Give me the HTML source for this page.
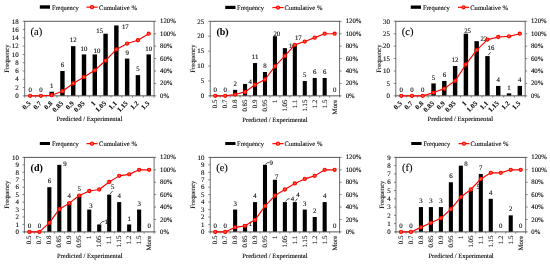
<!DOCTYPE html>
<html lang="en">
<head>
<meta charset="utf-8">
<title>Frequency and cumulative percentage histograms</title>
<style>
html,body{margin:0;padding:0;background:#fff;}
body{width:550px;height:264px;overflow:hidden;}
svg{display:block;font-family:'Liberation Serif', 'DejaVu Serif', serif;}
text{stroke:#111;stroke-width:.11px;}
text.r{stroke-width:.07px;}
svg{filter:blur(.25px);}
text[font-weight=bold]{stroke-width:.05px;}
</style>
</head>
<body>
<svg width="550" height="264" viewBox="0 0 550 264" text-rendering="geometricPrecision">
<rect width="550" height="264" fill="#fff"/>
<g id="chart-a">
<rect x="39.8" y="5.3" width="10.2" height="3.4" fill="#000"/>
<text x="51.9" y="9.55" text-anchor="start" font-size="6.7" fill="#000" textLength="26.9" lengthAdjust="spacingAndGlyphs">Frequency</text>
<line x1="86.5" y1="7.15" x2="97.5" y2="7.15" stroke="#ff0000" stroke-width="1.2"/>
<circle cx="92" cy="7.15" r="1.6" fill="#ff7038" stroke="#ff0000" stroke-width="1.1"/>
<text x="99" y="9.55" text-anchor="start" font-size="6.7" fill="#000" textLength="37.9" lengthAdjust="spacingAndGlyphs">Cumulative %</text>
<rect x="49.45" y="91.71" width="4.42" height="4.14" fill="#000"/>
<rect x="60.23" y="71" width="4.42" height="24.85" fill="#000"/>
<rect x="71.01" y="46.15" width="4.42" height="49.7" fill="#000"/>
<rect x="81.8" y="54.43" width="4.42" height="41.42" fill="#000"/>
<rect x="92.58" y="54.43" width="4.42" height="41.42" fill="#000"/>
<rect x="103.36" y="33.72" width="4.42" height="62.12" fill="#000"/>
<rect x="114.15" y="25.44" width="4.42" height="70.41" fill="#000"/>
<rect x="124.93" y="58.57" width="4.42" height="37.27" fill="#000"/>
<rect x="135.71" y="75.14" width="4.42" height="20.71" fill="#000"/>
<rect x="146.5" y="54.43" width="4.42" height="41.42" fill="#000"/>
<path d="M24.7 95.85V21.3M154.1 21.3V95.85" fill="none" stroke="#6e6e6e" stroke-width="1"/>
<path d="M24.2 21.3H154.6M24.2 95.85H154.6" fill="none" stroke="#555" stroke-width="1"/>
<line x1="22.7" y1="95.85" x2="24.7" y2="95.85" stroke="#555" stroke-width="0.7"/>
<text x="18.75" y="98.05" text-anchor="end" font-size="6.9" fill="#000">0</text>
<line x1="22.7" y1="87.57" x2="24.7" y2="87.57" stroke="#555" stroke-width="0.7"/>
<text x="18.75" y="89.77" text-anchor="end" font-size="6.9" fill="#000">2</text>
<line x1="22.7" y1="79.28" x2="24.7" y2="79.28" stroke="#555" stroke-width="0.7"/>
<text x="18.75" y="81.48" text-anchor="end" font-size="6.9" fill="#000">4</text>
<line x1="22.7" y1="71" x2="24.7" y2="71" stroke="#555" stroke-width="0.7"/>
<text x="18.75" y="73.2" text-anchor="end" font-size="6.9" fill="#000">6</text>
<line x1="22.7" y1="62.72" x2="24.7" y2="62.72" stroke="#555" stroke-width="0.7"/>
<text x="18.75" y="64.92" text-anchor="end" font-size="6.9" fill="#000">8</text>
<line x1="22.7" y1="54.43" x2="24.7" y2="54.43" stroke="#555" stroke-width="0.7"/>
<text x="18.75" y="56.63" text-anchor="end" font-size="6.9" fill="#000">10</text>
<line x1="22.7" y1="46.15" x2="24.7" y2="46.15" stroke="#555" stroke-width="0.7"/>
<text x="18.75" y="48.35" text-anchor="end" font-size="6.9" fill="#000">12</text>
<line x1="22.7" y1="37.87" x2="24.7" y2="37.87" stroke="#555" stroke-width="0.7"/>
<text x="18.75" y="40.07" text-anchor="end" font-size="6.9" fill="#000">14</text>
<line x1="22.7" y1="29.58" x2="24.7" y2="29.58" stroke="#555" stroke-width="0.7"/>
<text x="18.75" y="31.78" text-anchor="end" font-size="6.9" fill="#000">16</text>
<line x1="22.7" y1="21.3" x2="24.7" y2="21.3" stroke="#555" stroke-width="0.7"/>
<text x="18.75" y="23.5" text-anchor="end" font-size="6.9" fill="#000">18</text>
<line x1="154.1" y1="95.85" x2="156.1" y2="95.85" stroke="#555" stroke-width="0.7"/>
<text x="160.1" y="97.9" text-anchor="start" font-size="6.7" fill="#000">0%</text>
<line x1="154.1" y1="83.42" x2="156.1" y2="83.42" stroke="#555" stroke-width="0.7"/>
<text x="160.1" y="85.47" text-anchor="start" font-size="6.7" fill="#000">20%</text>
<line x1="154.1" y1="71" x2="156.1" y2="71" stroke="#555" stroke-width="0.7"/>
<text x="160.1" y="73.05" text-anchor="start" font-size="6.7" fill="#000">40%</text>
<line x1="154.1" y1="58.57" x2="156.1" y2="58.57" stroke="#555" stroke-width="0.7"/>
<text x="160.1" y="60.62" text-anchor="start" font-size="6.7" fill="#000">60%</text>
<line x1="154.1" y1="46.15" x2="156.1" y2="46.15" stroke="#555" stroke-width="0.7"/>
<text x="160.1" y="48.2" text-anchor="start" font-size="6.7" fill="#000">80%</text>
<line x1="154.1" y1="33.72" x2="156.1" y2="33.72" stroke="#555" stroke-width="0.7"/>
<text x="160.1" y="35.77" text-anchor="start" font-size="6.7" fill="#000">100%</text>
<line x1="154.1" y1="21.3" x2="156.1" y2="21.3" stroke="#555" stroke-width="0.7"/>
<text x="160.1" y="23.35" text-anchor="start" font-size="6.7" fill="#000">120%</text>
<line x1="24.7" y1="95.85" x2="24.7" y2="97.65" stroke="#555" stroke-width="0.7"/>
<line x1="35.48" y1="95.85" x2="35.48" y2="97.65" stroke="#555" stroke-width="0.7"/>
<line x1="46.27" y1="95.85" x2="46.27" y2="97.65" stroke="#555" stroke-width="0.7"/>
<line x1="57.05" y1="95.85" x2="57.05" y2="97.65" stroke="#555" stroke-width="0.7"/>
<line x1="67.83" y1="95.85" x2="67.83" y2="97.65" stroke="#555" stroke-width="0.7"/>
<line x1="78.62" y1="95.85" x2="78.62" y2="97.65" stroke="#555" stroke-width="0.7"/>
<line x1="89.4" y1="95.85" x2="89.4" y2="97.65" stroke="#555" stroke-width="0.7"/>
<line x1="100.18" y1="95.85" x2="100.18" y2="97.65" stroke="#555" stroke-width="0.7"/>
<line x1="110.97" y1="95.85" x2="110.97" y2="97.65" stroke="#555" stroke-width="0.7"/>
<line x1="121.75" y1="95.85" x2="121.75" y2="97.65" stroke="#555" stroke-width="0.7"/>
<line x1="132.53" y1="95.85" x2="132.53" y2="97.65" stroke="#555" stroke-width="0.7"/>
<line x1="143.32" y1="95.85" x2="143.32" y2="97.65" stroke="#555" stroke-width="0.7"/>
<line x1="154.1" y1="95.85" x2="154.1" y2="97.65" stroke="#555" stroke-width="0.7"/>
<text transform="translate(31.29,103.75) rotate(-45)" text-anchor="end" font-size="6.9" letter-spacing="0.05" font-weight="bold" fill="#000">0.5</text>
<text transform="translate(42.08,103.75) rotate(-45)" text-anchor="end" font-size="6.9" letter-spacing="0.05" font-weight="bold" fill="#000">0.7</text>
<text transform="translate(52.86,103.75) rotate(-45)" text-anchor="end" font-size="6.9" letter-spacing="0.05" font-weight="bold" fill="#000">0.8</text>
<text transform="translate(63.64,103.75) rotate(-45)" text-anchor="end" font-size="6.9" letter-spacing="0.05" font-weight="bold" fill="#000">0.85</text>
<text transform="translate(74.42,103.75) rotate(-45)" text-anchor="end" font-size="6.9" letter-spacing="0.05" font-weight="bold" fill="#000">0.9</text>
<text transform="translate(85.21,103.75) rotate(-45)" text-anchor="end" font-size="6.9" letter-spacing="0.05" font-weight="bold" fill="#000">0.95</text>
<text transform="translate(95.99,103.75) rotate(-45)" text-anchor="end" font-size="6.9" letter-spacing="0.05" font-weight="bold" fill="#000">1</text>
<text transform="translate(106.78,103.75) rotate(-45)" text-anchor="end" font-size="6.9" letter-spacing="0.05" font-weight="bold" fill="#000">1.05</text>
<text transform="translate(117.56,103.75) rotate(-45)" text-anchor="end" font-size="6.9" letter-spacing="0.05" font-weight="bold" fill="#000">1.1</text>
<text transform="translate(128.34,103.75) rotate(-45)" text-anchor="end" font-size="6.9" letter-spacing="0.05" font-weight="bold" fill="#000">1.15</text>
<text transform="translate(139.12,103.75) rotate(-45)" text-anchor="end" font-size="6.9" letter-spacing="0.05" font-weight="bold" fill="#000">1.2</text>
<text transform="translate(149.91,103.75) rotate(-45)" text-anchor="end" font-size="6.9" letter-spacing="0.05" font-weight="bold" fill="#000">1.5</text>
<text x="30.09" y="92" text-anchor="middle" font-size="6.8" fill="#000">0</text>
<text x="40.88" y="92" text-anchor="middle" font-size="6.8" fill="#000">0</text>
<text x="51.66" y="87.86" text-anchor="middle" font-size="6.8" fill="#000">1</text>
<text x="62.44" y="67.15" text-anchor="middle" font-size="6.8" fill="#000">6</text>
<text x="73.22" y="42.3" text-anchor="middle" font-size="6.8" fill="#000">12</text>
<text x="84.01" y="50.58" text-anchor="middle" font-size="6.8" fill="#000">10</text>
<text x="97" y="53.45" text-anchor="middle" font-size="6.8" fill="#000">10</text>
<text x="99.7" y="32.75" text-anchor="middle" font-size="6.8" fill="#000">15</text>
<text x="125.3" y="29.25" text-anchor="middle" font-size="6.8" fill="#000">17</text>
<text x="127.3" y="54.65" text-anchor="middle" font-size="6.8" fill="#000">9</text>
<text x="137.92" y="71.29" text-anchor="middle" font-size="6.8" fill="#000">5</text>
<text x="148.71" y="50.58" text-anchor="middle" font-size="6.8" fill="#000">10</text>
<polyline fill="none" stroke="#ff0000" stroke-width="1.15" stroke-linejoin="round" points="30.09,95.85 40.88,95.85 51.66,95.2 62.44,91.27 73.22,83.42 84.01,76.89 94.79,70.35 105.58,60.54 116.36,49.42 127.14,43.53 137.92,40.26 148.71,33.72"/>
<circle cx="30.09" cy="95.85" r="1.6" fill="#ff5a2a" stroke="#ff0000" stroke-width="1.1"/>
<circle cx="40.88" cy="95.85" r="1.6" fill="#ff5a2a" stroke="#ff0000" stroke-width="1.1"/>
<circle cx="51.66" cy="95.2" r="1.6" fill="#ff5a2a" stroke="#ff0000" stroke-width="1.1"/>
<circle cx="62.44" cy="91.27" r="1.6" fill="#ff5a2a" stroke="#ff0000" stroke-width="1.1"/>
<circle cx="73.22" cy="83.42" r="1.6" fill="#ff5a2a" stroke="#ff0000" stroke-width="1.1"/>
<circle cx="84.01" cy="76.89" r="1.6" fill="#ff5a2a" stroke="#ff0000" stroke-width="1.1"/>
<circle cx="94.79" cy="70.35" r="1.6" fill="#ff5a2a" stroke="#ff0000" stroke-width="1.1"/>
<circle cx="105.58" cy="60.54" r="1.6" fill="#ff5a2a" stroke="#ff0000" stroke-width="1.1"/>
<circle cx="116.36" cy="49.42" r="1.6" fill="#ff5a2a" stroke="#ff0000" stroke-width="1.1"/>
<circle cx="127.14" cy="43.53" r="1.6" fill="#ff5a2a" stroke="#ff0000" stroke-width="1.1"/>
<circle cx="137.92" cy="40.26" r="1.6" fill="#ff5a2a" stroke="#ff0000" stroke-width="1.1"/>
<circle cx="148.71" cy="33.72" r="1.6" fill="#ff5a2a" stroke="#ff0000" stroke-width="1.1"/>
<text x="56.5" y="121.1" text-anchor="start" font-size="6.6" fill="#000" textLength="65.8" lengthAdjust="spacingAndGlyphs">Predicted / Experimental</text>
<text transform="translate(9,58.57) rotate(-90)" text-anchor="middle" class="r" font-size="6.7" fill="#000">Frequency</text>
<text x="30.6" y="34.9" text-anchor="start" font-size="10.6" fill="#000">(a)</text>
</g>
<g id="chart-b">
<rect x="225.25" y="5.8" width="10.25" height="3.2" fill="#000"/>
<text x="237.1" y="9.6" text-anchor="start" font-size="6.7" fill="#000" textLength="26.9" lengthAdjust="spacingAndGlyphs">Frequency</text>
<line x1="272.4" y1="7.55" x2="283.6" y2="7.55" stroke="#ff0000" stroke-width="1.2"/>
<circle cx="278" cy="7.55" r="1.6" fill="#ff7038" stroke="#ff0000" stroke-width="1.1"/>
<text x="284.5" y="9.6" text-anchor="start" font-size="6.7" fill="#000" textLength="37.9" lengthAdjust="spacingAndGlyphs">Cumulative %</text>
<rect x="233.09" y="89.89" width="4.08" height="5.96" fill="#000"/>
<rect x="243.04" y="83.92" width="4.08" height="11.93" fill="#000"/>
<rect x="252.99" y="63.05" width="4.08" height="32.8" fill="#000"/>
<rect x="262.94" y="71.99" width="4.08" height="23.86" fill="#000"/>
<rect x="272.89" y="36.21" width="4.08" height="59.64" fill="#000"/>
<rect x="282.84" y="48.14" width="4.08" height="47.71" fill="#000"/>
<rect x="292.79" y="45.16" width="4.08" height="50.69" fill="#000"/>
<rect x="302.74" y="80.94" width="4.08" height="14.91" fill="#000"/>
<rect x="312.69" y="77.96" width="4.08" height="17.89" fill="#000"/>
<rect x="322.64" y="77.96" width="4.08" height="17.89" fill="#000"/>
<path d="M210.25 95.85V21.3M339.6 21.3V95.85" fill="none" stroke="#6e6e6e" stroke-width="1"/>
<path d="M209.75 21.3H340.1M209.75 95.85H340.1" fill="none" stroke="#555" stroke-width="1"/>
<line x1="208.25" y1="95.85" x2="210.25" y2="95.85" stroke="#555" stroke-width="0.7"/>
<text x="204.2" y="98.05" text-anchor="end" font-size="6.9" fill="#000">0</text>
<line x1="208.25" y1="80.94" x2="210.25" y2="80.94" stroke="#555" stroke-width="0.7"/>
<text x="204.2" y="83.14" text-anchor="end" font-size="6.9" fill="#000">5</text>
<line x1="208.25" y1="66.03" x2="210.25" y2="66.03" stroke="#555" stroke-width="0.7"/>
<text x="204.2" y="68.23" text-anchor="end" font-size="6.9" fill="#000">10</text>
<line x1="208.25" y1="51.12" x2="210.25" y2="51.12" stroke="#555" stroke-width="0.7"/>
<text x="204.2" y="53.32" text-anchor="end" font-size="6.9" fill="#000">15</text>
<line x1="208.25" y1="36.21" x2="210.25" y2="36.21" stroke="#555" stroke-width="0.7"/>
<text x="204.2" y="38.41" text-anchor="end" font-size="6.9" fill="#000">20</text>
<line x1="208.25" y1="21.3" x2="210.25" y2="21.3" stroke="#555" stroke-width="0.7"/>
<text x="204.2" y="23.5" text-anchor="end" font-size="6.9" fill="#000">25</text>
<line x1="339.6" y1="95.85" x2="341.6" y2="95.85" stroke="#555" stroke-width="0.7"/>
<text x="345.7" y="97.9" text-anchor="start" font-size="6.7" fill="#000">0%</text>
<line x1="339.6" y1="83.42" x2="341.6" y2="83.42" stroke="#555" stroke-width="0.7"/>
<text x="345.7" y="85.47" text-anchor="start" font-size="6.7" fill="#000">20%</text>
<line x1="339.6" y1="71" x2="341.6" y2="71" stroke="#555" stroke-width="0.7"/>
<text x="345.7" y="73.05" text-anchor="start" font-size="6.7" fill="#000">40%</text>
<line x1="339.6" y1="58.57" x2="341.6" y2="58.57" stroke="#555" stroke-width="0.7"/>
<text x="345.7" y="60.62" text-anchor="start" font-size="6.7" fill="#000">60%</text>
<line x1="339.6" y1="46.15" x2="341.6" y2="46.15" stroke="#555" stroke-width="0.7"/>
<text x="345.7" y="48.2" text-anchor="start" font-size="6.7" fill="#000">80%</text>
<line x1="339.6" y1="33.72" x2="341.6" y2="33.72" stroke="#555" stroke-width="0.7"/>
<text x="345.7" y="35.77" text-anchor="start" font-size="6.7" fill="#000">100%</text>
<line x1="339.6" y1="21.3" x2="341.6" y2="21.3" stroke="#555" stroke-width="0.7"/>
<text x="345.7" y="23.35" text-anchor="start" font-size="6.7" fill="#000">120%</text>
<line x1="210.25" y1="95.85" x2="210.25" y2="97.65" stroke="#555" stroke-width="0.7"/>
<line x1="220.2" y1="95.85" x2="220.2" y2="97.65" stroke="#555" stroke-width="0.7"/>
<line x1="230.15" y1="95.85" x2="230.15" y2="97.65" stroke="#555" stroke-width="0.7"/>
<line x1="240.1" y1="95.85" x2="240.1" y2="97.65" stroke="#555" stroke-width="0.7"/>
<line x1="250.05" y1="95.85" x2="250.05" y2="97.65" stroke="#555" stroke-width="0.7"/>
<line x1="260" y1="95.85" x2="260" y2="97.65" stroke="#555" stroke-width="0.7"/>
<line x1="269.95" y1="95.85" x2="269.95" y2="97.65" stroke="#555" stroke-width="0.7"/>
<line x1="279.9" y1="95.85" x2="279.9" y2="97.65" stroke="#555" stroke-width="0.7"/>
<line x1="289.85" y1="95.85" x2="289.85" y2="97.65" stroke="#555" stroke-width="0.7"/>
<line x1="299.8" y1="95.85" x2="299.8" y2="97.65" stroke="#555" stroke-width="0.7"/>
<line x1="309.75" y1="95.85" x2="309.75" y2="97.65" stroke="#555" stroke-width="0.7"/>
<line x1="319.7" y1="95.85" x2="319.7" y2="97.65" stroke="#555" stroke-width="0.7"/>
<line x1="329.65" y1="95.85" x2="329.65" y2="97.65" stroke="#555" stroke-width="0.7"/>
<line x1="339.6" y1="95.85" x2="339.6" y2="97.65" stroke="#555" stroke-width="0.7"/>
<text transform="translate(217.32,99.65) rotate(-90)" text-anchor="end" class="r" font-size="6.8" fill="#000">0.5</text>
<text transform="translate(227.28,99.65) rotate(-90)" text-anchor="end" class="r" font-size="6.8" fill="#000">0.7</text>
<text transform="translate(237.22,99.65) rotate(-90)" text-anchor="end" class="r" font-size="6.8" fill="#000">0.8</text>
<text transform="translate(247.17,99.65) rotate(-90)" text-anchor="end" class="r" font-size="6.8" fill="#000">0.85</text>
<text transform="translate(257.12,99.65) rotate(-90)" text-anchor="end" class="r" font-size="6.8" fill="#000">0.9</text>
<text transform="translate(267.08,99.65) rotate(-90)" text-anchor="end" class="r" font-size="6.8" fill="#000">0.95</text>
<text transform="translate(277.03,99.65) rotate(-90)" text-anchor="end" class="r" font-size="6.8" fill="#000">1</text>
<text transform="translate(286.98,99.65) rotate(-90)" text-anchor="end" class="r" font-size="6.8" fill="#000">1.05</text>
<text transform="translate(296.93,99.65) rotate(-90)" text-anchor="end" class="r" font-size="6.8" fill="#000">1.1</text>
<text transform="translate(306.88,99.65) rotate(-90)" text-anchor="end" class="r" font-size="6.8" fill="#000">1.15</text>
<text transform="translate(316.83,99.65) rotate(-90)" text-anchor="end" class="r" font-size="6.8" fill="#000">1.2</text>
<text transform="translate(326.78,99.65) rotate(-90)" text-anchor="end" class="r" font-size="6.8" fill="#000">1.5</text>
<text transform="translate(336.73,99.65) rotate(-90)" text-anchor="end" class="r" font-size="6.8" fill="#000">More</text>
<text x="215.22" y="92" text-anchor="middle" font-size="6.8" fill="#000">0</text>
<text x="225.18" y="92" text-anchor="middle" font-size="6.8" fill="#000">0</text>
<text x="235.12" y="86.04" text-anchor="middle" font-size="6.8" fill="#000">2</text>
<text x="250.2" y="84.35" text-anchor="middle" font-size="6.8" fill="#000">4</text>
<text x="255.1" y="58.95" text-anchor="middle" font-size="6.8" fill="#000">11</text>
<text x="264.98" y="68.14" text-anchor="middle" font-size="6.8" fill="#000">8</text>
<text x="276.8" y="35.65" text-anchor="middle" font-size="6.8" fill="#000">20</text>
<text x="292.3" y="47.85" text-anchor="middle" font-size="6.8" fill="#000">16</text>
<text x="298.3" y="39.85" text-anchor="middle" font-size="6.8" fill="#000">17</text>
<text x="304.77" y="77.09" text-anchor="middle" font-size="6.8" fill="#000">5</text>
<text x="314.73" y="74.11" text-anchor="middle" font-size="6.8" fill="#000">6</text>
<text x="324.68" y="74.11" text-anchor="middle" font-size="6.8" fill="#000">6</text>
<text x="334.62" y="92" text-anchor="middle" font-size="6.8" fill="#000">0</text>
<polyline fill="none" stroke="#ff0000" stroke-width="1.15" stroke-linejoin="round" points="215.22,95.85 225.18,95.85 235.12,94.54 245.07,91.93 255.03,84.73 264.98,79.5 274.93,66.42 284.88,55.96 294.82,44.84 304.77,41.57 314.73,37.65 324.68,33.72 334.62,33.72"/>
<circle cx="215.22" cy="95.85" r="1.6" fill="#ff5a2a" stroke="#ff0000" stroke-width="1.1"/>
<circle cx="225.18" cy="95.85" r="1.6" fill="#ff5a2a" stroke="#ff0000" stroke-width="1.1"/>
<circle cx="235.12" cy="94.54" r="1.6" fill="#ff5a2a" stroke="#ff0000" stroke-width="1.1"/>
<circle cx="245.07" cy="91.93" r="1.6" fill="#ff5a2a" stroke="#ff0000" stroke-width="1.1"/>
<circle cx="255.03" cy="84.73" r="1.6" fill="#ff5a2a" stroke="#ff0000" stroke-width="1.1"/>
<circle cx="264.98" cy="79.5" r="1.6" fill="#ff5a2a" stroke="#ff0000" stroke-width="1.1"/>
<circle cx="274.93" cy="66.42" r="1.6" fill="#ff5a2a" stroke="#ff0000" stroke-width="1.1"/>
<circle cx="284.88" cy="55.96" r="1.6" fill="#ff5a2a" stroke="#ff0000" stroke-width="1.1"/>
<circle cx="294.82" cy="44.84" r="1.6" fill="#ff5a2a" stroke="#ff0000" stroke-width="1.1"/>
<circle cx="304.77" cy="41.57" r="1.6" fill="#ff5a2a" stroke="#ff0000" stroke-width="1.1"/>
<circle cx="314.73" cy="37.65" r="1.6" fill="#ff5a2a" stroke="#ff0000" stroke-width="1.1"/>
<circle cx="324.68" cy="33.72" r="1.6" fill="#ff5a2a" stroke="#ff0000" stroke-width="1.1"/>
<circle cx="334.62" cy="33.72" r="1.6" fill="#ff5a2a" stroke="#ff0000" stroke-width="1.1"/>
<text x="242.3" y="122.1" text-anchor="start" font-size="6.6" fill="#000" textLength="65.3" lengthAdjust="spacingAndGlyphs">Predicted / Experimental</text>
<text transform="translate(194.5,58.57) rotate(-90)" text-anchor="middle" class="r" font-size="6.7" fill="#000">Frequency</text>
<text x="216.45" y="34.9" text-anchor="start" font-size="10" fill="#000" font-weight="bold">(b)</text>
</g>
<g id="chart-c">
<rect x="410.75" y="5.5" width="10.25" height="3.3" fill="#000"/>
<text x="422.9" y="9.55" text-anchor="start" font-size="6.7" fill="#000" textLength="26.9" lengthAdjust="spacingAndGlyphs">Frequency</text>
<line x1="458" y1="7.3" x2="469.1" y2="7.3" stroke="#ff0000" stroke-width="1.2"/>
<circle cx="463.55" cy="7.3" r="1.6" fill="#ff7038" stroke="#ff0000" stroke-width="1.1"/>
<text x="470.2" y="9.55" text-anchor="start" font-size="6.7" fill="#000" textLength="37.9" lengthAdjust="spacingAndGlyphs">Cumulative %</text>
<rect x="431.33" y="83.42" width="4.42" height="12.42" fill="#000"/>
<rect x="442.11" y="80.94" width="4.42" height="14.91" fill="#000"/>
<rect x="452.9" y="66.03" width="4.42" height="29.82" fill="#000"/>
<rect x="463.68" y="33.72" width="4.42" height="62.12" fill="#000"/>
<rect x="474.46" y="41.18" width="4.42" height="54.67" fill="#000"/>
<rect x="485.25" y="56.09" width="4.42" height="39.76" fill="#000"/>
<rect x="496.03" y="85.91" width="4.42" height="9.94" fill="#000"/>
<rect x="506.81" y="93.36" width="4.42" height="2.48" fill="#000"/>
<rect x="517.6" y="85.91" width="4.42" height="9.94" fill="#000"/>
<path d="M395.8 95.85V21.3M525.2 21.3V95.85" fill="none" stroke="#6e6e6e" stroke-width="1"/>
<path d="M395.3 21.3H525.7M395.3 95.85H525.7" fill="none" stroke="#555" stroke-width="1"/>
<line x1="393.8" y1="95.85" x2="395.8" y2="95.85" stroke="#555" stroke-width="0.7"/>
<text x="389.9" y="98.05" text-anchor="end" font-size="6.9" fill="#000">0</text>
<line x1="393.8" y1="83.42" x2="395.8" y2="83.42" stroke="#555" stroke-width="0.7"/>
<text x="389.9" y="85.62" text-anchor="end" font-size="6.9" fill="#000">5</text>
<line x1="393.8" y1="71" x2="395.8" y2="71" stroke="#555" stroke-width="0.7"/>
<text x="389.9" y="73.2" text-anchor="end" font-size="6.9" fill="#000">10</text>
<line x1="393.8" y1="58.57" x2="395.8" y2="58.57" stroke="#555" stroke-width="0.7"/>
<text x="389.9" y="60.77" text-anchor="end" font-size="6.9" fill="#000">15</text>
<line x1="393.8" y1="46.15" x2="395.8" y2="46.15" stroke="#555" stroke-width="0.7"/>
<text x="389.9" y="48.35" text-anchor="end" font-size="6.9" fill="#000">20</text>
<line x1="393.8" y1="33.72" x2="395.8" y2="33.72" stroke="#555" stroke-width="0.7"/>
<text x="389.9" y="35.92" text-anchor="end" font-size="6.9" fill="#000">25</text>
<line x1="393.8" y1="21.3" x2="395.8" y2="21.3" stroke="#555" stroke-width="0.7"/>
<text x="389.9" y="23.5" text-anchor="end" font-size="6.9" fill="#000">30</text>
<line x1="525.2" y1="95.85" x2="527.2" y2="95.85" stroke="#555" stroke-width="0.7"/>
<text x="531" y="97.9" text-anchor="start" font-size="6.7" fill="#000">0%</text>
<line x1="525.2" y1="83.42" x2="527.2" y2="83.42" stroke="#555" stroke-width="0.7"/>
<text x="531" y="85.47" text-anchor="start" font-size="6.7" fill="#000">20%</text>
<line x1="525.2" y1="71" x2="527.2" y2="71" stroke="#555" stroke-width="0.7"/>
<text x="531" y="73.05" text-anchor="start" font-size="6.7" fill="#000">40%</text>
<line x1="525.2" y1="58.57" x2="527.2" y2="58.57" stroke="#555" stroke-width="0.7"/>
<text x="531" y="60.62" text-anchor="start" font-size="6.7" fill="#000">60%</text>
<line x1="525.2" y1="46.15" x2="527.2" y2="46.15" stroke="#555" stroke-width="0.7"/>
<text x="531" y="48.2" text-anchor="start" font-size="6.7" fill="#000">80%</text>
<line x1="525.2" y1="33.72" x2="527.2" y2="33.72" stroke="#555" stroke-width="0.7"/>
<text x="531" y="35.77" text-anchor="start" font-size="6.7" fill="#000">100%</text>
<line x1="525.2" y1="21.3" x2="527.2" y2="21.3" stroke="#555" stroke-width="0.7"/>
<text x="531" y="23.35" text-anchor="start" font-size="6.7" fill="#000">120%</text>
<line x1="395.8" y1="95.85" x2="395.8" y2="97.65" stroke="#555" stroke-width="0.7"/>
<line x1="406.58" y1="95.85" x2="406.58" y2="97.65" stroke="#555" stroke-width="0.7"/>
<line x1="417.37" y1="95.85" x2="417.37" y2="97.65" stroke="#555" stroke-width="0.7"/>
<line x1="428.15" y1="95.85" x2="428.15" y2="97.65" stroke="#555" stroke-width="0.7"/>
<line x1="438.93" y1="95.85" x2="438.93" y2="97.65" stroke="#555" stroke-width="0.7"/>
<line x1="449.72" y1="95.85" x2="449.72" y2="97.65" stroke="#555" stroke-width="0.7"/>
<line x1="460.5" y1="95.85" x2="460.5" y2="97.65" stroke="#555" stroke-width="0.7"/>
<line x1="471.28" y1="95.85" x2="471.28" y2="97.65" stroke="#555" stroke-width="0.7"/>
<line x1="482.07" y1="95.85" x2="482.07" y2="97.65" stroke="#555" stroke-width="0.7"/>
<line x1="492.85" y1="95.85" x2="492.85" y2="97.65" stroke="#555" stroke-width="0.7"/>
<line x1="503.63" y1="95.85" x2="503.63" y2="97.65" stroke="#555" stroke-width="0.7"/>
<line x1="514.42" y1="95.85" x2="514.42" y2="97.65" stroke="#555" stroke-width="0.7"/>
<line x1="525.2" y1="95.85" x2="525.2" y2="97.65" stroke="#555" stroke-width="0.7"/>
<text transform="translate(402.39,103.75) rotate(-45)" text-anchor="end" font-size="6.9" letter-spacing="0.05" font-weight="bold" fill="#000">0.5</text>
<text transform="translate(413.18,103.75) rotate(-45)" text-anchor="end" font-size="6.9" letter-spacing="0.05" font-weight="bold" fill="#000">0.7</text>
<text transform="translate(423.96,103.75) rotate(-45)" text-anchor="end" font-size="6.9" letter-spacing="0.05" font-weight="bold" fill="#000">0.8</text>
<text transform="translate(434.74,103.75) rotate(-45)" text-anchor="end" font-size="6.9" letter-spacing="0.05" font-weight="bold" fill="#000">0.85</text>
<text transform="translate(445.53,103.75) rotate(-45)" text-anchor="end" font-size="6.9" letter-spacing="0.05" font-weight="bold" fill="#000">0.9</text>
<text transform="translate(456.31,103.75) rotate(-45)" text-anchor="end" font-size="6.9" letter-spacing="0.05" font-weight="bold" fill="#000">0.95</text>
<text transform="translate(467.09,103.75) rotate(-45)" text-anchor="end" font-size="6.9" letter-spacing="0.05" font-weight="bold" fill="#000">1</text>
<text transform="translate(477.88,103.75) rotate(-45)" text-anchor="end" font-size="6.9" letter-spacing="0.05" font-weight="bold" fill="#000">1.05</text>
<text transform="translate(488.66,103.75) rotate(-45)" text-anchor="end" font-size="6.9" letter-spacing="0.05" font-weight="bold" fill="#000">1.1</text>
<text transform="translate(499.44,103.75) rotate(-45)" text-anchor="end" font-size="6.9" letter-spacing="0.05" font-weight="bold" fill="#000">1.15</text>
<text transform="translate(510.23,103.75) rotate(-45)" text-anchor="end" font-size="6.9" letter-spacing="0.05" font-weight="bold" fill="#000">1.2</text>
<text transform="translate(521.01,103.75) rotate(-45)" text-anchor="end" font-size="6.9" letter-spacing="0.05" font-weight="bold" fill="#000">1.5</text>
<text x="401.19" y="92" text-anchor="middle" font-size="6.8" fill="#000">0</text>
<text x="411.98" y="92" text-anchor="middle" font-size="6.8" fill="#000">0</text>
<text x="422.76" y="92" text-anchor="middle" font-size="6.8" fill="#000">0</text>
<text x="433.54" y="79.58" text-anchor="middle" font-size="6.8" fill="#000">5</text>
<text x="444.33" y="77.09" text-anchor="middle" font-size="6.8" fill="#000">6</text>
<text x="455.11" y="62.18" text-anchor="middle" font-size="6.8" fill="#000">12</text>
<text x="467.6" y="32.55" text-anchor="middle" font-size="6.8" fill="#000">25</text>
<text x="483.8" y="40.65" text-anchor="middle" font-size="6.8" fill="#000">22</text>
<text x="490.9" y="50.45" text-anchor="middle" font-size="6.8" fill="#000">16</text>
<text x="498.24" y="82.06" text-anchor="middle" font-size="6.8" fill="#000">4</text>
<text x="509.03" y="89.52" text-anchor="middle" font-size="6.8" fill="#000">1</text>
<text x="519.81" y="82.06" text-anchor="middle" font-size="6.8" fill="#000">4</text>
<polyline fill="none" stroke="#111" stroke-width="0.75" points="490.6,52.3 488.2,55.2"/>
<polyline fill="none" stroke="#ff0000" stroke-width="1.15" stroke-linejoin="round" points="401.19,95.85 411.98,95.85 422.76,95.85 433.54,92.58 444.33,88.66 455.11,80.81 465.89,64.46 476.68,50.07 487.46,39.61 498.24,36.99 509.03,36.34 519.81,33.72"/>
<circle cx="401.19" cy="95.85" r="1.6" fill="#ff5a2a" stroke="#ff0000" stroke-width="1.1"/>
<circle cx="411.98" cy="95.85" r="1.6" fill="#ff5a2a" stroke="#ff0000" stroke-width="1.1"/>
<circle cx="422.76" cy="95.85" r="1.6" fill="#ff5a2a" stroke="#ff0000" stroke-width="1.1"/>
<circle cx="433.54" cy="92.58" r="1.6" fill="#ff5a2a" stroke="#ff0000" stroke-width="1.1"/>
<circle cx="444.33" cy="88.66" r="1.6" fill="#ff5a2a" stroke="#ff0000" stroke-width="1.1"/>
<circle cx="455.11" cy="80.81" r="1.6" fill="#ff5a2a" stroke="#ff0000" stroke-width="1.1"/>
<circle cx="465.89" cy="64.46" r="1.6" fill="#ff5a2a" stroke="#ff0000" stroke-width="1.1"/>
<circle cx="476.68" cy="50.07" r="1.6" fill="#ff5a2a" stroke="#ff0000" stroke-width="1.1"/>
<circle cx="487.46" cy="39.61" r="1.6" fill="#ff5a2a" stroke="#ff0000" stroke-width="1.1"/>
<circle cx="498.24" cy="36.99" r="1.6" fill="#ff5a2a" stroke="#ff0000" stroke-width="1.1"/>
<circle cx="509.03" cy="36.34" r="1.6" fill="#ff5a2a" stroke="#ff0000" stroke-width="1.1"/>
<circle cx="519.81" cy="33.72" r="1.6" fill="#ff5a2a" stroke="#ff0000" stroke-width="1.1"/>
<text x="427.6" y="121.1" text-anchor="start" font-size="6.6" fill="#000" textLength="65.4" lengthAdjust="spacingAndGlyphs">Predicted / Experimental</text>
<text transform="translate(380.6,58.57) rotate(-90)" text-anchor="middle" class="r" font-size="6.7" fill="#000">Frequency</text>
<text x="401.7" y="34.9" text-anchor="start" font-size="10.6" fill="#000">(c)</text>
</g>
<g id="chart-d">
<rect x="39.8" y="142" width="10.2" height="3" fill="#000"/>
<text x="51.9" y="145.6" text-anchor="start" font-size="6.7" fill="#000" textLength="26.9" lengthAdjust="spacingAndGlyphs">Frequency</text>
<line x1="86.5" y1="143.65" x2="97.5" y2="143.65" stroke="#ff0000" stroke-width="1.2"/>
<circle cx="92" cy="143.65" r="1.6" fill="#ff7038" stroke="#ff0000" stroke-width="1.1"/>
<text x="99" y="145.6" text-anchor="start" font-size="6.7" fill="#000" textLength="37.9" lengthAdjust="spacingAndGlyphs">Cumulative %</text>
<rect x="47.3" y="187.2" width="4.09" height="44.7" fill="#000"/>
<rect x="57.27" y="164.85" width="4.09" height="67.05" fill="#000"/>
<rect x="67.25" y="202.1" width="4.09" height="29.8" fill="#000"/>
<rect x="77.23" y="194.65" width="4.09" height="37.25" fill="#000"/>
<rect x="87.2" y="209.55" width="4.09" height="22.35" fill="#000"/>
<rect x="97.18" y="224.45" width="4.09" height="7.45" fill="#000"/>
<rect x="107.16" y="194.65" width="4.09" height="37.25" fill="#000"/>
<rect x="117.14" y="202.1" width="4.09" height="29.8" fill="#000"/>
<rect x="127.11" y="224.45" width="4.09" height="7.45" fill="#000"/>
<rect x="137.09" y="209.55" width="4.09" height="22.35" fill="#000"/>
<path d="M24.4 231.9V157.4M154.1 157.4V231.9" fill="none" stroke="#6e6e6e" stroke-width="1"/>
<path d="M23.9 157.4H154.6M23.9 231.9H154.6" fill="none" stroke="#555" stroke-width="1"/>
<line x1="22.4" y1="231.9" x2="24.4" y2="231.9" stroke="#555" stroke-width="0.7"/>
<text x="18.9" y="234.1" text-anchor="end" font-size="6.9" fill="#000">0</text>
<line x1="22.4" y1="224.45" x2="24.4" y2="224.45" stroke="#555" stroke-width="0.7"/>
<text x="18.9" y="226.65" text-anchor="end" font-size="6.9" fill="#000">1</text>
<line x1="22.4" y1="217" x2="24.4" y2="217" stroke="#555" stroke-width="0.7"/>
<text x="18.9" y="219.2" text-anchor="end" font-size="6.9" fill="#000">2</text>
<line x1="22.4" y1="209.55" x2="24.4" y2="209.55" stroke="#555" stroke-width="0.7"/>
<text x="18.9" y="211.75" text-anchor="end" font-size="6.9" fill="#000">3</text>
<line x1="22.4" y1="202.1" x2="24.4" y2="202.1" stroke="#555" stroke-width="0.7"/>
<text x="18.9" y="204.3" text-anchor="end" font-size="6.9" fill="#000">4</text>
<line x1="22.4" y1="194.65" x2="24.4" y2="194.65" stroke="#555" stroke-width="0.7"/>
<text x="18.9" y="196.85" text-anchor="end" font-size="6.9" fill="#000">5</text>
<line x1="22.4" y1="187.2" x2="24.4" y2="187.2" stroke="#555" stroke-width="0.7"/>
<text x="18.9" y="189.4" text-anchor="end" font-size="6.9" fill="#000">6</text>
<line x1="22.4" y1="179.75" x2="24.4" y2="179.75" stroke="#555" stroke-width="0.7"/>
<text x="18.9" y="181.95" text-anchor="end" font-size="6.9" fill="#000">7</text>
<line x1="22.4" y1="172.3" x2="24.4" y2="172.3" stroke="#555" stroke-width="0.7"/>
<text x="18.9" y="174.5" text-anchor="end" font-size="6.9" fill="#000">8</text>
<line x1="22.4" y1="164.85" x2="24.4" y2="164.85" stroke="#555" stroke-width="0.7"/>
<text x="18.9" y="167.05" text-anchor="end" font-size="6.9" fill="#000">9</text>
<line x1="22.4" y1="157.4" x2="24.4" y2="157.4" stroke="#555" stroke-width="0.7"/>
<text x="18.9" y="159.6" text-anchor="end" font-size="6.9" fill="#000">10</text>
<line x1="154.1" y1="231.9" x2="156.1" y2="231.9" stroke="#555" stroke-width="0.7"/>
<text x="160.1" y="233.95" text-anchor="start" font-size="6.7" fill="#000">0%</text>
<line x1="154.1" y1="219.48" x2="156.1" y2="219.48" stroke="#555" stroke-width="0.7"/>
<text x="160.1" y="221.53" text-anchor="start" font-size="6.7" fill="#000">20%</text>
<line x1="154.1" y1="207.07" x2="156.1" y2="207.07" stroke="#555" stroke-width="0.7"/>
<text x="160.1" y="209.12" text-anchor="start" font-size="6.7" fill="#000">40%</text>
<line x1="154.1" y1="194.65" x2="156.1" y2="194.65" stroke="#555" stroke-width="0.7"/>
<text x="160.1" y="196.7" text-anchor="start" font-size="6.7" fill="#000">60%</text>
<line x1="154.1" y1="182.23" x2="156.1" y2="182.23" stroke="#555" stroke-width="0.7"/>
<text x="160.1" y="184.28" text-anchor="start" font-size="6.7" fill="#000">80%</text>
<line x1="154.1" y1="169.82" x2="156.1" y2="169.82" stroke="#555" stroke-width="0.7"/>
<text x="160.1" y="171.87" text-anchor="start" font-size="6.7" fill="#000">100%</text>
<line x1="154.1" y1="157.4" x2="156.1" y2="157.4" stroke="#555" stroke-width="0.7"/>
<text x="160.1" y="159.45" text-anchor="start" font-size="6.7" fill="#000">120%</text>
<line x1="24.4" y1="231.9" x2="24.4" y2="233.7" stroke="#555" stroke-width="0.7"/>
<line x1="34.38" y1="231.9" x2="34.38" y2="233.7" stroke="#555" stroke-width="0.7"/>
<line x1="44.35" y1="231.9" x2="44.35" y2="233.7" stroke="#555" stroke-width="0.7"/>
<line x1="54.33" y1="231.9" x2="54.33" y2="233.7" stroke="#555" stroke-width="0.7"/>
<line x1="64.31" y1="231.9" x2="64.31" y2="233.7" stroke="#555" stroke-width="0.7"/>
<line x1="74.28" y1="231.9" x2="74.28" y2="233.7" stroke="#555" stroke-width="0.7"/>
<line x1="84.26" y1="231.9" x2="84.26" y2="233.7" stroke="#555" stroke-width="0.7"/>
<line x1="94.24" y1="231.9" x2="94.24" y2="233.7" stroke="#555" stroke-width="0.7"/>
<line x1="104.22" y1="231.9" x2="104.22" y2="233.7" stroke="#555" stroke-width="0.7"/>
<line x1="114.19" y1="231.9" x2="114.19" y2="233.7" stroke="#555" stroke-width="0.7"/>
<line x1="124.17" y1="231.9" x2="124.17" y2="233.7" stroke="#555" stroke-width="0.7"/>
<line x1="134.15" y1="231.9" x2="134.15" y2="233.7" stroke="#555" stroke-width="0.7"/>
<line x1="144.12" y1="231.9" x2="144.12" y2="233.7" stroke="#555" stroke-width="0.7"/>
<line x1="154.1" y1="231.9" x2="154.1" y2="233.7" stroke="#555" stroke-width="0.7"/>
<text transform="translate(31.49,235.7) rotate(-90)" text-anchor="end" class="r" font-size="6.8" fill="#000">0.5</text>
<text transform="translate(41.47,235.7) rotate(-90)" text-anchor="end" class="r" font-size="6.8" fill="#000">0.7</text>
<text transform="translate(51.44,235.7) rotate(-90)" text-anchor="end" class="r" font-size="6.8" fill="#000">0.8</text>
<text transform="translate(61.42,235.7) rotate(-90)" text-anchor="end" class="r" font-size="6.8" fill="#000">0.85</text>
<text transform="translate(71.4,235.7) rotate(-90)" text-anchor="end" class="r" font-size="6.8" fill="#000">0.9</text>
<text transform="translate(81.37,235.7) rotate(-90)" text-anchor="end" class="r" font-size="6.8" fill="#000">0.95</text>
<text transform="translate(91.35,235.7) rotate(-90)" text-anchor="end" class="r" font-size="6.8" fill="#000">1</text>
<text transform="translate(101.33,235.7) rotate(-90)" text-anchor="end" class="r" font-size="6.8" fill="#000">1.05</text>
<text transform="translate(111.3,235.7) rotate(-90)" text-anchor="end" class="r" font-size="6.8" fill="#000">1.1</text>
<text transform="translate(121.28,235.7) rotate(-90)" text-anchor="end" class="r" font-size="6.8" fill="#000">1.15</text>
<text transform="translate(131.26,235.7) rotate(-90)" text-anchor="end" class="r" font-size="6.8" fill="#000">1.2</text>
<text transform="translate(141.23,235.7) rotate(-90)" text-anchor="end" class="r" font-size="6.8" fill="#000">1.5</text>
<text transform="translate(151.21,235.7) rotate(-90)" text-anchor="end" class="r" font-size="6.8" fill="#000">More</text>
<text x="29.39" y="228.05" text-anchor="middle" font-size="6.8" fill="#000">0</text>
<text x="39.37" y="228.05" text-anchor="middle" font-size="6.8" fill="#000">0</text>
<text x="49.34" y="183.35" text-anchor="middle" font-size="6.8" fill="#000">6</text>
<text x="65" y="165.55" text-anchor="middle" font-size="6.8" fill="#000">9</text>
<text x="69.3" y="198.25" text-anchor="middle" font-size="6.8" fill="#000">4</text>
<text x="79.27" y="190.8" text-anchor="middle" font-size="6.8" fill="#000">5</text>
<text x="90.9" y="208.45" text-anchor="middle" font-size="6.8" fill="#000">3</text>
<text x="106.2" y="223.65" text-anchor="middle" font-size="6.8" fill="#000">1</text>
<text x="112.6" y="189.05" text-anchor="middle" font-size="6.8" fill="#000">5</text>
<text x="119.18" y="198.25" text-anchor="middle" font-size="6.8" fill="#000">4</text>
<text x="129.16" y="220.6" text-anchor="middle" font-size="6.8" fill="#000">1</text>
<text x="139.13" y="205.7" text-anchor="middle" font-size="6.8" fill="#000">3</text>
<text x="149.11" y="228.05" text-anchor="middle" font-size="6.8" fill="#000">0</text>
<polyline fill="none" stroke="#111" stroke-width="0.75" points="112.6,191 109.8,194.2"/>
<polyline fill="none" stroke="#111" stroke-width="0.75" points="104.6,221.4 102.8,221.4 99.8,224"/>
<polyline fill="none" stroke="#ff0000" stroke-width="1.15" stroke-linejoin="round" points="29.39,231.9 39.37,231.9 49.34,222.81 59.32,209.19 69.3,203.13 79.27,195.56 89.25,191.02 99.23,189.5 109.2,181.93 119.18,175.87 129.16,174.36 139.13,169.82 149.11,169.82"/>
<circle cx="29.39" cy="231.9" r="1.6" fill="#ff5a2a" stroke="#ff0000" stroke-width="1.1"/>
<circle cx="39.37" cy="231.9" r="1.6" fill="#ff5a2a" stroke="#ff0000" stroke-width="1.1"/>
<circle cx="49.34" cy="222.81" r="1.6" fill="#ff5a2a" stroke="#ff0000" stroke-width="1.1"/>
<circle cx="59.32" cy="209.19" r="1.6" fill="#ff5a2a" stroke="#ff0000" stroke-width="1.1"/>
<circle cx="69.3" cy="203.13" r="1.6" fill="#ff5a2a" stroke="#ff0000" stroke-width="1.1"/>
<circle cx="79.27" cy="195.56" r="1.6" fill="#ff5a2a" stroke="#ff0000" stroke-width="1.1"/>
<circle cx="89.25" cy="191.02" r="1.6" fill="#ff5a2a" stroke="#ff0000" stroke-width="1.1"/>
<circle cx="99.23" cy="189.5" r="1.6" fill="#ff5a2a" stroke="#ff0000" stroke-width="1.1"/>
<circle cx="109.2" cy="181.93" r="1.6" fill="#ff5a2a" stroke="#ff0000" stroke-width="1.1"/>
<circle cx="119.18" cy="175.87" r="1.6" fill="#ff5a2a" stroke="#ff0000" stroke-width="1.1"/>
<circle cx="129.16" cy="174.36" r="1.6" fill="#ff5a2a" stroke="#ff0000" stroke-width="1.1"/>
<circle cx="139.13" cy="169.82" r="1.6" fill="#ff5a2a" stroke="#ff0000" stroke-width="1.1"/>
<circle cx="149.11" cy="169.82" r="1.6" fill="#ff5a2a" stroke="#ff0000" stroke-width="1.1"/>
<text x="57" y="258.2" text-anchor="start" font-size="6.6" fill="#000" textLength="65.5" lengthAdjust="spacingAndGlyphs">Predicted / Experimental</text>
<text transform="translate(9,194.65) rotate(-90)" text-anchor="middle" class="r" font-size="6.7" fill="#000">Frequency</text>
<text x="30.6" y="170.8" text-anchor="start" font-size="10" fill="#000" font-weight="bold">(d)</text>
</g>
<g id="chart-e">
<rect x="225.25" y="142" width="10.25" height="3" fill="#000"/>
<text x="237.1" y="145.6" text-anchor="start" font-size="6.7" fill="#000" textLength="26.9" lengthAdjust="spacingAndGlyphs">Frequency</text>
<line x1="272.4" y1="143.65" x2="283.6" y2="143.65" stroke="#ff0000" stroke-width="1.2"/>
<circle cx="278" cy="143.65" r="1.6" fill="#ff7038" stroke="#ff0000" stroke-width="1.1"/>
<text x="284.5" y="145.6" text-anchor="start" font-size="6.7" fill="#000" textLength="37.9" lengthAdjust="spacingAndGlyphs">Cumulative %</text>
<rect x="233.09" y="209.55" width="4.08" height="22.35" fill="#000"/>
<rect x="243.04" y="224.45" width="4.08" height="7.45" fill="#000"/>
<rect x="252.99" y="202.1" width="4.08" height="29.8" fill="#000"/>
<rect x="262.94" y="164.85" width="4.08" height="67.05" fill="#000"/>
<rect x="272.89" y="179.75" width="4.08" height="52.15" fill="#000"/>
<rect x="282.84" y="202.1" width="4.08" height="29.8" fill="#000"/>
<rect x="292.79" y="202.1" width="4.08" height="29.8" fill="#000"/>
<rect x="302.74" y="209.55" width="4.08" height="22.35" fill="#000"/>
<rect x="312.69" y="217" width="4.08" height="14.9" fill="#000"/>
<rect x="322.64" y="202.1" width="4.08" height="29.8" fill="#000"/>
<path d="M210.25 231.9V157.4M339.6 157.4V231.9" fill="none" stroke="#6e6e6e" stroke-width="1"/>
<path d="M209.75 157.4H340.1M209.75 231.9H340.1" fill="none" stroke="#555" stroke-width="1"/>
<line x1="208.25" y1="231.9" x2="210.25" y2="231.9" stroke="#555" stroke-width="0.7"/>
<text x="204.4" y="234.1" text-anchor="end" font-size="6.9" fill="#000">0</text>
<line x1="208.25" y1="224.45" x2="210.25" y2="224.45" stroke="#555" stroke-width="0.7"/>
<text x="204.4" y="226.65" text-anchor="end" font-size="6.9" fill="#000">1</text>
<line x1="208.25" y1="217" x2="210.25" y2="217" stroke="#555" stroke-width="0.7"/>
<text x="204.4" y="219.2" text-anchor="end" font-size="6.9" fill="#000">2</text>
<line x1="208.25" y1="209.55" x2="210.25" y2="209.55" stroke="#555" stroke-width="0.7"/>
<text x="204.4" y="211.75" text-anchor="end" font-size="6.9" fill="#000">3</text>
<line x1="208.25" y1="202.1" x2="210.25" y2="202.1" stroke="#555" stroke-width="0.7"/>
<text x="204.4" y="204.3" text-anchor="end" font-size="6.9" fill="#000">4</text>
<line x1="208.25" y1="194.65" x2="210.25" y2="194.65" stroke="#555" stroke-width="0.7"/>
<text x="204.4" y="196.85" text-anchor="end" font-size="6.9" fill="#000">5</text>
<line x1="208.25" y1="187.2" x2="210.25" y2="187.2" stroke="#555" stroke-width="0.7"/>
<text x="204.4" y="189.4" text-anchor="end" font-size="6.9" fill="#000">6</text>
<line x1="208.25" y1="179.75" x2="210.25" y2="179.75" stroke="#555" stroke-width="0.7"/>
<text x="204.4" y="181.95" text-anchor="end" font-size="6.9" fill="#000">7</text>
<line x1="208.25" y1="172.3" x2="210.25" y2="172.3" stroke="#555" stroke-width="0.7"/>
<text x="204.4" y="174.5" text-anchor="end" font-size="6.9" fill="#000">8</text>
<line x1="208.25" y1="164.85" x2="210.25" y2="164.85" stroke="#555" stroke-width="0.7"/>
<text x="204.4" y="167.05" text-anchor="end" font-size="6.9" fill="#000">9</text>
<line x1="208.25" y1="157.4" x2="210.25" y2="157.4" stroke="#555" stroke-width="0.7"/>
<text x="204.4" y="159.6" text-anchor="end" font-size="6.9" fill="#000">10</text>
<line x1="339.6" y1="231.9" x2="341.6" y2="231.9" stroke="#555" stroke-width="0.7"/>
<text x="345.7" y="233.95" text-anchor="start" font-size="6.7" fill="#000">0%</text>
<line x1="339.6" y1="219.48" x2="341.6" y2="219.48" stroke="#555" stroke-width="0.7"/>
<text x="345.7" y="221.53" text-anchor="start" font-size="6.7" fill="#000">20%</text>
<line x1="339.6" y1="207.07" x2="341.6" y2="207.07" stroke="#555" stroke-width="0.7"/>
<text x="345.7" y="209.12" text-anchor="start" font-size="6.7" fill="#000">40%</text>
<line x1="339.6" y1="194.65" x2="341.6" y2="194.65" stroke="#555" stroke-width="0.7"/>
<text x="345.7" y="196.7" text-anchor="start" font-size="6.7" fill="#000">60%</text>
<line x1="339.6" y1="182.23" x2="341.6" y2="182.23" stroke="#555" stroke-width="0.7"/>
<text x="345.7" y="184.28" text-anchor="start" font-size="6.7" fill="#000">80%</text>
<line x1="339.6" y1="169.82" x2="341.6" y2="169.82" stroke="#555" stroke-width="0.7"/>
<text x="345.7" y="171.87" text-anchor="start" font-size="6.7" fill="#000">100%</text>
<line x1="339.6" y1="157.4" x2="341.6" y2="157.4" stroke="#555" stroke-width="0.7"/>
<text x="345.7" y="159.45" text-anchor="start" font-size="6.7" fill="#000">120%</text>
<line x1="210.25" y1="231.9" x2="210.25" y2="233.7" stroke="#555" stroke-width="0.7"/>
<line x1="220.2" y1="231.9" x2="220.2" y2="233.7" stroke="#555" stroke-width="0.7"/>
<line x1="230.15" y1="231.9" x2="230.15" y2="233.7" stroke="#555" stroke-width="0.7"/>
<line x1="240.1" y1="231.9" x2="240.1" y2="233.7" stroke="#555" stroke-width="0.7"/>
<line x1="250.05" y1="231.9" x2="250.05" y2="233.7" stroke="#555" stroke-width="0.7"/>
<line x1="260" y1="231.9" x2="260" y2="233.7" stroke="#555" stroke-width="0.7"/>
<line x1="269.95" y1="231.9" x2="269.95" y2="233.7" stroke="#555" stroke-width="0.7"/>
<line x1="279.9" y1="231.9" x2="279.9" y2="233.7" stroke="#555" stroke-width="0.7"/>
<line x1="289.85" y1="231.9" x2="289.85" y2="233.7" stroke="#555" stroke-width="0.7"/>
<line x1="299.8" y1="231.9" x2="299.8" y2="233.7" stroke="#555" stroke-width="0.7"/>
<line x1="309.75" y1="231.9" x2="309.75" y2="233.7" stroke="#555" stroke-width="0.7"/>
<line x1="319.7" y1="231.9" x2="319.7" y2="233.7" stroke="#555" stroke-width="0.7"/>
<line x1="329.65" y1="231.9" x2="329.65" y2="233.7" stroke="#555" stroke-width="0.7"/>
<line x1="339.6" y1="231.9" x2="339.6" y2="233.7" stroke="#555" stroke-width="0.7"/>
<text transform="translate(217.32,235.7) rotate(-90)" text-anchor="end" class="r" font-size="6.8" fill="#000">0.5</text>
<text transform="translate(227.28,235.7) rotate(-90)" text-anchor="end" class="r" font-size="6.8" fill="#000">0.7</text>
<text transform="translate(237.22,235.7) rotate(-90)" text-anchor="end" class="r" font-size="6.8" fill="#000">0.8</text>
<text transform="translate(247.17,235.7) rotate(-90)" text-anchor="end" class="r" font-size="6.8" fill="#000">0.85</text>
<text transform="translate(257.12,235.7) rotate(-90)" text-anchor="end" class="r" font-size="6.8" fill="#000">0.9</text>
<text transform="translate(267.08,235.7) rotate(-90)" text-anchor="end" class="r" font-size="6.8" fill="#000">0.95</text>
<text transform="translate(277.03,235.7) rotate(-90)" text-anchor="end" class="r" font-size="6.8" fill="#000">1</text>
<text transform="translate(286.98,235.7) rotate(-90)" text-anchor="end" class="r" font-size="6.8" fill="#000">1.05</text>
<text transform="translate(296.93,235.7) rotate(-90)" text-anchor="end" class="r" font-size="6.8" fill="#000">1.1</text>
<text transform="translate(306.88,235.7) rotate(-90)" text-anchor="end" class="r" font-size="6.8" fill="#000">1.15</text>
<text transform="translate(316.83,235.7) rotate(-90)" text-anchor="end" class="r" font-size="6.8" fill="#000">1.2</text>
<text transform="translate(326.78,235.7) rotate(-90)" text-anchor="end" class="r" font-size="6.8" fill="#000">1.5</text>
<text transform="translate(336.73,235.7) rotate(-90)" text-anchor="end" class="r" font-size="6.8" fill="#000">More</text>
<text x="215.22" y="228.05" text-anchor="middle" font-size="6.8" fill="#000">0</text>
<text x="225.18" y="228.05" text-anchor="middle" font-size="6.8" fill="#000">0</text>
<text x="235.12" y="205.7" text-anchor="middle" font-size="6.8" fill="#000">3</text>
<text x="250.5" y="225.65" text-anchor="middle" font-size="6.8" fill="#000">1</text>
<text x="255.03" y="198.25" text-anchor="middle" font-size="6.8" fill="#000">4</text>
<text x="271.1" y="164.75" text-anchor="middle" font-size="6.8" fill="#000">9</text>
<text x="276.8" y="178.85" text-anchor="middle" font-size="6.8" fill="#000">7</text>
<text x="292.4" y="201.35" text-anchor="middle" font-size="6.8" fill="#000">4</text>
<text x="298" y="196.55" text-anchor="middle" font-size="6.8" fill="#000">4</text>
<text x="304.77" y="205.7" text-anchor="middle" font-size="6.8" fill="#000">3</text>
<text x="314.73" y="213.15" text-anchor="middle" font-size="6.8" fill="#000">2</text>
<text x="324.68" y="198.25" text-anchor="middle" font-size="6.8" fill="#000">4</text>
<text x="334.62" y="228.05" text-anchor="middle" font-size="6.8" fill="#000">0</text>
<polyline fill="none" stroke="#111" stroke-width="0.75" points="269.2,162.7 267.6,162.7 265.2,164.6"/>
<polyline fill="none" stroke="#111" stroke-width="0.75" points="289.6,198.9 287.9,198.9 285.3,201.4"/>
<polyline fill="none" stroke="#111" stroke-width="0.75" points="297.3,198.7 295.1,201.6"/>
<polyline fill="none" stroke="#ff0000" stroke-width="1.15" stroke-linejoin="round" points="215.22,231.9 225.18,231.9 235.12,227.36 245.07,225.84 255.03,219.79 264.98,206.16 274.93,195.56 284.88,189.5 294.82,183.44 304.77,178.9 314.73,175.87 324.68,169.82 334.62,169.82"/>
<circle cx="215.22" cy="231.9" r="1.6" fill="#ff5a2a" stroke="#ff0000" stroke-width="1.1"/>
<circle cx="225.18" cy="231.9" r="1.6" fill="#ff5a2a" stroke="#ff0000" stroke-width="1.1"/>
<circle cx="235.12" cy="227.36" r="1.6" fill="#ff5a2a" stroke="#ff0000" stroke-width="1.1"/>
<circle cx="245.07" cy="225.84" r="1.6" fill="#ff5a2a" stroke="#ff0000" stroke-width="1.1"/>
<circle cx="255.03" cy="219.79" r="1.6" fill="#ff5a2a" stroke="#ff0000" stroke-width="1.1"/>
<circle cx="264.98" cy="206.16" r="1.6" fill="#ff5a2a" stroke="#ff0000" stroke-width="1.1"/>
<circle cx="274.93" cy="195.56" r="1.6" fill="#ff5a2a" stroke="#ff0000" stroke-width="1.1"/>
<circle cx="284.88" cy="189.5" r="1.6" fill="#ff5a2a" stroke="#ff0000" stroke-width="1.1"/>
<circle cx="294.82" cy="183.44" r="1.6" fill="#ff5a2a" stroke="#ff0000" stroke-width="1.1"/>
<circle cx="304.77" cy="178.9" r="1.6" fill="#ff5a2a" stroke="#ff0000" stroke-width="1.1"/>
<circle cx="314.73" cy="175.87" r="1.6" fill="#ff5a2a" stroke="#ff0000" stroke-width="1.1"/>
<circle cx="324.68" cy="169.82" r="1.6" fill="#ff5a2a" stroke="#ff0000" stroke-width="1.1"/>
<circle cx="334.62" cy="169.82" r="1.6" fill="#ff5a2a" stroke="#ff0000" stroke-width="1.1"/>
<text x="242.3" y="258.2" text-anchor="start" font-size="6.6" fill="#000" textLength="65.3" lengthAdjust="spacingAndGlyphs">Predicted / Experimental</text>
<text transform="translate(194.5,194.65) rotate(-90)" text-anchor="middle" class="r" font-size="6.7" fill="#000">Frequency</text>
<text x="216.15" y="170.8" text-anchor="start" font-size="10.6" fill="#000">(e)</text>
</g>
<g id="chart-f">
<rect x="411.25" y="142" width="10.35" height="3" fill="#000"/>
<text x="423.4" y="145.6" text-anchor="start" font-size="6.7" fill="#000" textLength="26.9" lengthAdjust="spacingAndGlyphs">Frequency</text>
<line x1="458.5" y1="143.65" x2="469.5" y2="143.65" stroke="#ff0000" stroke-width="1.2"/>
<circle cx="464" cy="143.65" r="1.6" fill="#ff7038" stroke="#ff0000" stroke-width="1.1"/>
<text x="470.6" y="145.6" text-anchor="start" font-size="6.7" fill="#000" textLength="37.9" lengthAdjust="spacingAndGlyphs">Cumulative %</text>
<rect x="418.9" y="207.07" width="4.09" height="24.83" fill="#000"/>
<rect x="428.87" y="207.07" width="4.09" height="24.83" fill="#000"/>
<rect x="438.85" y="207.07" width="4.09" height="24.83" fill="#000"/>
<rect x="448.83" y="182.23" width="4.09" height="49.67" fill="#000"/>
<rect x="458.8" y="165.68" width="4.09" height="66.22" fill="#000"/>
<rect x="468.78" y="190.51" width="4.09" height="41.39" fill="#000"/>
<rect x="478.76" y="173.96" width="4.09" height="57.94" fill="#000"/>
<rect x="488.74" y="198.79" width="4.09" height="33.11" fill="#000"/>
<rect x="508.69" y="215.34" width="4.09" height="16.56" fill="#000"/>
<path d="M396 231.9V157.4M525.7 157.4V231.9" fill="none" stroke="#6e6e6e" stroke-width="1"/>
<path d="M395.5 157.4H526.2M395.5 231.9H526.2" fill="none" stroke="#555" stroke-width="1"/>
<line x1="394" y1="231.9" x2="396" y2="231.9" stroke="#555" stroke-width="0.7"/>
<text x="390.8" y="234.1" text-anchor="end" font-size="6.9" fill="#000">0</text>
<line x1="394" y1="223.62" x2="396" y2="223.62" stroke="#555" stroke-width="0.7"/>
<text x="390.8" y="225.82" text-anchor="end" font-size="6.9" fill="#000">1</text>
<line x1="394" y1="215.34" x2="396" y2="215.34" stroke="#555" stroke-width="0.7"/>
<text x="390.8" y="217.54" text-anchor="end" font-size="6.9" fill="#000">2</text>
<line x1="394" y1="207.07" x2="396" y2="207.07" stroke="#555" stroke-width="0.7"/>
<text x="390.8" y="209.27" text-anchor="end" font-size="6.9" fill="#000">3</text>
<line x1="394" y1="198.79" x2="396" y2="198.79" stroke="#555" stroke-width="0.7"/>
<text x="390.8" y="200.99" text-anchor="end" font-size="6.9" fill="#000">4</text>
<line x1="394" y1="190.51" x2="396" y2="190.51" stroke="#555" stroke-width="0.7"/>
<text x="390.8" y="192.71" text-anchor="end" font-size="6.9" fill="#000">5</text>
<line x1="394" y1="182.23" x2="396" y2="182.23" stroke="#555" stroke-width="0.7"/>
<text x="390.8" y="184.43" text-anchor="end" font-size="6.9" fill="#000">6</text>
<line x1="394" y1="173.96" x2="396" y2="173.96" stroke="#555" stroke-width="0.7"/>
<text x="390.8" y="176.16" text-anchor="end" font-size="6.9" fill="#000">7</text>
<line x1="394" y1="165.68" x2="396" y2="165.68" stroke="#555" stroke-width="0.7"/>
<text x="390.8" y="167.88" text-anchor="end" font-size="6.9" fill="#000">8</text>
<line x1="394" y1="157.4" x2="396" y2="157.4" stroke="#555" stroke-width="0.7"/>
<text x="390.8" y="159.6" text-anchor="end" font-size="6.9" fill="#000">9</text>
<line x1="525.7" y1="231.9" x2="527.7" y2="231.9" stroke="#555" stroke-width="0.7"/>
<text x="531.3" y="233.95" text-anchor="start" font-size="6.7" fill="#000">0%</text>
<line x1="525.7" y1="219.48" x2="527.7" y2="219.48" stroke="#555" stroke-width="0.7"/>
<text x="531.3" y="221.53" text-anchor="start" font-size="6.7" fill="#000">20%</text>
<line x1="525.7" y1="207.07" x2="527.7" y2="207.07" stroke="#555" stroke-width="0.7"/>
<text x="531.3" y="209.12" text-anchor="start" font-size="6.7" fill="#000">40%</text>
<line x1="525.7" y1="194.65" x2="527.7" y2="194.65" stroke="#555" stroke-width="0.7"/>
<text x="531.3" y="196.7" text-anchor="start" font-size="6.7" fill="#000">60%</text>
<line x1="525.7" y1="182.23" x2="527.7" y2="182.23" stroke="#555" stroke-width="0.7"/>
<text x="531.3" y="184.28" text-anchor="start" font-size="6.7" fill="#000">80%</text>
<line x1="525.7" y1="169.82" x2="527.7" y2="169.82" stroke="#555" stroke-width="0.7"/>
<text x="531.3" y="171.87" text-anchor="start" font-size="6.7" fill="#000">100%</text>
<line x1="525.7" y1="157.4" x2="527.7" y2="157.4" stroke="#555" stroke-width="0.7"/>
<text x="531.3" y="159.45" text-anchor="start" font-size="6.7" fill="#000">120%</text>
<line x1="396" y1="231.9" x2="396" y2="233.7" stroke="#555" stroke-width="0.7"/>
<line x1="405.98" y1="231.9" x2="405.98" y2="233.7" stroke="#555" stroke-width="0.7"/>
<line x1="415.95" y1="231.9" x2="415.95" y2="233.7" stroke="#555" stroke-width="0.7"/>
<line x1="425.93" y1="231.9" x2="425.93" y2="233.7" stroke="#555" stroke-width="0.7"/>
<line x1="435.91" y1="231.9" x2="435.91" y2="233.7" stroke="#555" stroke-width="0.7"/>
<line x1="445.88" y1="231.9" x2="445.88" y2="233.7" stroke="#555" stroke-width="0.7"/>
<line x1="455.86" y1="231.9" x2="455.86" y2="233.7" stroke="#555" stroke-width="0.7"/>
<line x1="465.84" y1="231.9" x2="465.84" y2="233.7" stroke="#555" stroke-width="0.7"/>
<line x1="475.82" y1="231.9" x2="475.82" y2="233.7" stroke="#555" stroke-width="0.7"/>
<line x1="485.79" y1="231.9" x2="485.79" y2="233.7" stroke="#555" stroke-width="0.7"/>
<line x1="495.77" y1="231.9" x2="495.77" y2="233.7" stroke="#555" stroke-width="0.7"/>
<line x1="505.75" y1="231.9" x2="505.75" y2="233.7" stroke="#555" stroke-width="0.7"/>
<line x1="515.72" y1="231.9" x2="515.72" y2="233.7" stroke="#555" stroke-width="0.7"/>
<line x1="525.7" y1="231.9" x2="525.7" y2="233.7" stroke="#555" stroke-width="0.7"/>
<text transform="translate(403.09,235.7) rotate(-90)" text-anchor="end" class="r" font-size="6.8" fill="#000">0.5</text>
<text transform="translate(413.07,235.7) rotate(-90)" text-anchor="end" class="r" font-size="6.8" fill="#000">0.7</text>
<text transform="translate(423.04,235.7) rotate(-90)" text-anchor="end" class="r" font-size="6.8" fill="#000">0.8</text>
<text transform="translate(433.02,235.7) rotate(-90)" text-anchor="end" class="r" font-size="6.8" fill="#000">0.85</text>
<text transform="translate(443,235.7) rotate(-90)" text-anchor="end" class="r" font-size="6.8" fill="#000">0.9</text>
<text transform="translate(452.97,235.7) rotate(-90)" text-anchor="end" class="r" font-size="6.8" fill="#000">0.95</text>
<text transform="translate(462.95,235.7) rotate(-90)" text-anchor="end" class="r" font-size="6.8" fill="#000">1</text>
<text transform="translate(472.93,235.7) rotate(-90)" text-anchor="end" class="r" font-size="6.8" fill="#000">1.05</text>
<text transform="translate(482.9,235.7) rotate(-90)" text-anchor="end" class="r" font-size="6.8" fill="#000">1.1</text>
<text transform="translate(492.88,235.7) rotate(-90)" text-anchor="end" class="r" font-size="6.8" fill="#000">1.15</text>
<text transform="translate(502.86,235.7) rotate(-90)" text-anchor="end" class="r" font-size="6.8" fill="#000">1.2</text>
<text transform="translate(512.83,235.7) rotate(-90)" text-anchor="end" class="r" font-size="6.8" fill="#000">1.5</text>
<text transform="translate(522.81,235.7) rotate(-90)" text-anchor="end" class="r" font-size="6.8" fill="#000">More</text>
<text x="400.99" y="228.05" text-anchor="middle" font-size="6.8" fill="#000">0</text>
<text x="410.97" y="228.05" text-anchor="middle" font-size="6.8" fill="#000">0</text>
<text x="420.94" y="203.22" text-anchor="middle" font-size="6.8" fill="#000">3</text>
<text x="430.92" y="203.22" text-anchor="middle" font-size="6.8" fill="#000">3</text>
<text x="440.9" y="203.22" text-anchor="middle" font-size="6.8" fill="#000">3</text>
<text x="450.87" y="178.38" text-anchor="middle" font-size="6.8" fill="#000">6</text>
<text x="465.9" y="165.55" text-anchor="middle" font-size="6.8" fill="#000">8</text>
<text x="478.3" y="188.85" text-anchor="middle" font-size="6.8" fill="#000">5</text>
<text x="480.8" y="170.11" text-anchor="middle" font-size="6.8" fill="#000">7</text>
<text x="490.78" y="194.94" text-anchor="middle" font-size="6.8" fill="#000">4</text>
<text x="500.76" y="228.05" text-anchor="middle" font-size="6.8" fill="#000">0</text>
<text x="510.73" y="211.49" text-anchor="middle" font-size="6.8" fill="#000">2</text>
<text x="520.71" y="228.05" text-anchor="middle" font-size="6.8" fill="#000">0</text>
<polyline fill="none" stroke="#ff0000" stroke-width="1.15" stroke-linejoin="round" points="400.99,231.9 410.97,231.9 420.94,227.36 430.92,222.81 440.9,218.27 450.87,209.19 460.85,197.07 470.83,189.5 480.8,178.9 490.78,172.85 500.76,172.85 510.73,169.82 520.71,169.82"/>
<circle cx="400.99" cy="231.9" r="1.6" fill="#ff5a2a" stroke="#ff0000" stroke-width="1.1"/>
<circle cx="410.97" cy="231.9" r="1.6" fill="#ff5a2a" stroke="#ff0000" stroke-width="1.1"/>
<circle cx="420.94" cy="227.36" r="1.6" fill="#ff5a2a" stroke="#ff0000" stroke-width="1.1"/>
<circle cx="430.92" cy="222.81" r="1.6" fill="#ff5a2a" stroke="#ff0000" stroke-width="1.1"/>
<circle cx="440.9" cy="218.27" r="1.6" fill="#ff5a2a" stroke="#ff0000" stroke-width="1.1"/>
<circle cx="450.87" cy="209.19" r="1.6" fill="#ff5a2a" stroke="#ff0000" stroke-width="1.1"/>
<circle cx="460.85" cy="197.07" r="1.6" fill="#ff5a2a" stroke="#ff0000" stroke-width="1.1"/>
<circle cx="470.83" cy="189.5" r="1.6" fill="#ff5a2a" stroke="#ff0000" stroke-width="1.1"/>
<circle cx="480.8" cy="178.9" r="1.6" fill="#ff5a2a" stroke="#ff0000" stroke-width="1.1"/>
<circle cx="490.78" cy="172.85" r="1.6" fill="#ff5a2a" stroke="#ff0000" stroke-width="1.1"/>
<circle cx="500.76" cy="172.85" r="1.6" fill="#ff5a2a" stroke="#ff0000" stroke-width="1.1"/>
<circle cx="510.73" cy="169.82" r="1.6" fill="#ff5a2a" stroke="#ff0000" stroke-width="1.1"/>
<circle cx="520.71" cy="169.82" r="1.6" fill="#ff5a2a" stroke="#ff0000" stroke-width="1.1"/>
<text x="428.4" y="258.2" text-anchor="start" font-size="6.6" fill="#000" textLength="65.3" lengthAdjust="spacingAndGlyphs">Predicted / Experimental</text>
<text transform="translate(383.9,194.65) rotate(-90)" text-anchor="middle" class="r" font-size="6.7" fill="#000">Frequency</text>
<text x="401.9" y="170.8" text-anchor="start" font-size="10.6" fill="#000">(f)</text>
</g>
</svg>
</body>
</html>
